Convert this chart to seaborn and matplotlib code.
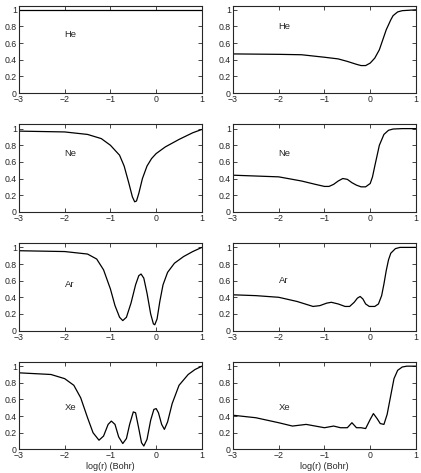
import matplotlib
matplotlib.use("Agg")
import matplotlib.pyplot as plt
import seaborn as sns

sns.set_style("ticks")
plt.rcParams['font.family'] = ['Liberation Sans', 'DejaVu Sans']

# values
he_l_x = [-3, -2, -1, 0, 1]
he_l_y = [0.995, 0.995, 0.995, 0.995, 0.995]
he_r_x = [-3, -2, -1.5, -1, -0.7, -0.5, -0.3, -0.2, -0.1, 0, 0.1, 0.2, 0.3, 0.35, 0.45, 0.5, 0.6, 0.7, 1]
he_r_y = [0.47, 0.465, 0.46, 0.43, 0.41, 0.38, 0.345, 0.33, 0.33, 0.36, 0.42, 0.52, 0.68, 0.76, 0.88, 0.93, 0.975, 0.99, 1.0]

ne_l_x = [-3, -2, -1.5, -1.2, -1.0, -0.8, -0.7, -0.6, -0.52, -0.47, -0.43, -0.38, -0.3, -0.2, -0.1, 0, 0.2, 0.5, 0.8, 1]
ne_l_y = [0.97, 0.96, 0.93, 0.88, 0.8, 0.68, 0.55, 0.35, 0.18, 0.12, 0.13, 0.22, 0.4, 0.55, 0.64, 0.7, 0.78, 0.87, 0.95, 0.99]
ne_r_x = [-3, -2, -1.5, -1.2, -1.0, -0.9, -0.8, -0.7, -0.6, -0.5, -0.4, -0.3, -0.2, -0.1, 0, 0.05, 0.1, 0.2, 0.3, 0.4, 0.5, 0.7, 1]
ne_r_y = [0.44, 0.42, 0.37, 0.33, 0.305, 0.305, 0.33, 0.37, 0.4, 0.39, 0.35, 0.32, 0.3, 0.3, 0.34, 0.42, 0.55, 0.8, 0.93, 0.98, 0.995, 1.0, 1.0]

ar_l_x = [-3, -2, -1.5, -1.3, -1.15, -1.0, -0.9, -0.8, -0.73, -0.65, -0.55, -0.45, -0.38, -0.33, -0.27, -0.2, -0.12, -0.06, -0.03, 0.02, 0.08, 0.15, 0.25, 0.4, 0.6, 0.8, 1]
ar_l_y = [0.96, 0.95, 0.92, 0.86, 0.73, 0.5, 0.3, 0.16, 0.12, 0.16, 0.33, 0.55, 0.66, 0.68, 0.63, 0.45, 0.2, 0.08, 0.07, 0.14, 0.35, 0.55, 0.7, 0.81, 0.89, 0.95, 1.0]
ar_r_x = [-3, -2.5, -2, -1.6, -1.25, -1.1, -0.95, -0.85, -0.7, -0.55, -0.45, -0.35, -0.28, -0.22, -0.16, -0.1, -0.02, 0.1, 0.18, 0.25, 0.3, 0.35, 0.4, 0.45, 0.55, 0.65, 1]
ar_r_y = [0.43, 0.42, 0.4, 0.35, 0.29, 0.3, 0.33, 0.34, 0.32, 0.29, 0.29, 0.34, 0.39, 0.41, 0.38, 0.32, 0.29, 0.29, 0.32, 0.42, 0.56, 0.72, 0.85, 0.93, 0.985, 1.0, 1.0]

xe_l_x = [-3, -2.3, -2.0, -1.8, -1.65, -1.5, -1.38, -1.25, -1.15, -1.05, -0.98, -0.9, -0.82, -0.73, -0.65, -0.58, -0.5, -0.45, -0.38, -0.32, -0.27, -0.2, -0.12, -0.05, 0.0, 0.05, 0.12, 0.18, 0.25, 0.35, 0.5, 0.7, 0.85, 1]
xe_l_y = [0.92, 0.9, 0.85, 0.77, 0.62, 0.38, 0.2, 0.11, 0.16, 0.3, 0.34, 0.3, 0.15, 0.07, 0.13, 0.3, 0.45, 0.44, 0.25, 0.08, 0.04, 0.12, 0.35, 0.48, 0.49, 0.44, 0.3, 0.24, 0.33, 0.55, 0.77, 0.9, 0.96, 1.0]
xe_r_x = [-3, -2.5, -2.0, -1.7, -1.4, -1.2, -1.0, -0.8, -0.65, -0.5, -0.4, -0.3, -0.2, -0.1, 0.0, 0.07, 0.15, 0.22, 0.3, 0.37, 0.45, 0.52, 0.6, 0.7, 0.8, 1]
xe_r_y = [0.41, 0.38, 0.32, 0.28, 0.3, 0.28, 0.26, 0.28, 0.26, 0.26, 0.32, 0.26, 0.26, 0.25, 0.36, 0.43, 0.37, 0.31, 0.3, 0.42, 0.65, 0.85, 0.95, 0.99, 1.0, 1.0]

panels = [
    ("He", he_l_x, he_l_y, 0.7, he_r_x, he_r_y, 0.8),
    ("Ne", ne_l_x, ne_l_y, 0.7, ne_r_x, ne_r_y, 0.7),
    ("Ar", ar_l_x, ar_l_y, 0.55, ar_r_x, ar_r_y, 0.6),
    ("Xe", xe_l_x, xe_l_y, 0.5, xe_r_x, xe_r_y, 0.5),
]

fig, axes = plt.subplots(4, 2, figsize=(4.21, 4.73), dpi=100)
fig.subplots_adjust(left=0.045, right=0.988, top=0.988, bottom=0.05,
                    hspace=0.36, wspace=0.17)

for i, (name, lx, ly, ltxt, rx, ry, rtxt) in enumerate(panels):
    for j, (xs, ys, ty) in enumerate([(lx, ly, ltxt), (rx, ry, rtxt)]):
        ax = axes[i, j]
        sns.lineplot(x=xs, y=ys, ax=ax, color='black', linewidth=0.9, sort=False)
        ax.set_xlim(-3, 1)
        ax.set_ylim(0, 1.05)
        ax.set_xticks([-3, -2, -1, 0, 1])
        ax.set_yticks([0, 0.2, 0.4, 0.6, 0.8, 1])
        ax.set_yticklabels(['0', '0.2', '0.4', '0.6', '0.8', '1'])
        ax.tick_params(direction='in', top=True, right=True, labelsize=6.3,
                       length=3, width=0.6, pad=1.5)
        for s in ax.spines.values():
            s.set_linewidth(0.8)
        ax.text(-2, ty, name, fontsize=6.8, ha='left', va='center')
        if i == 3:
            ax.set_xlabel("log(r) (Bohr)", fontsize=6.5, labelpad=1)

fig.savefig("out.png", dpi=100)
